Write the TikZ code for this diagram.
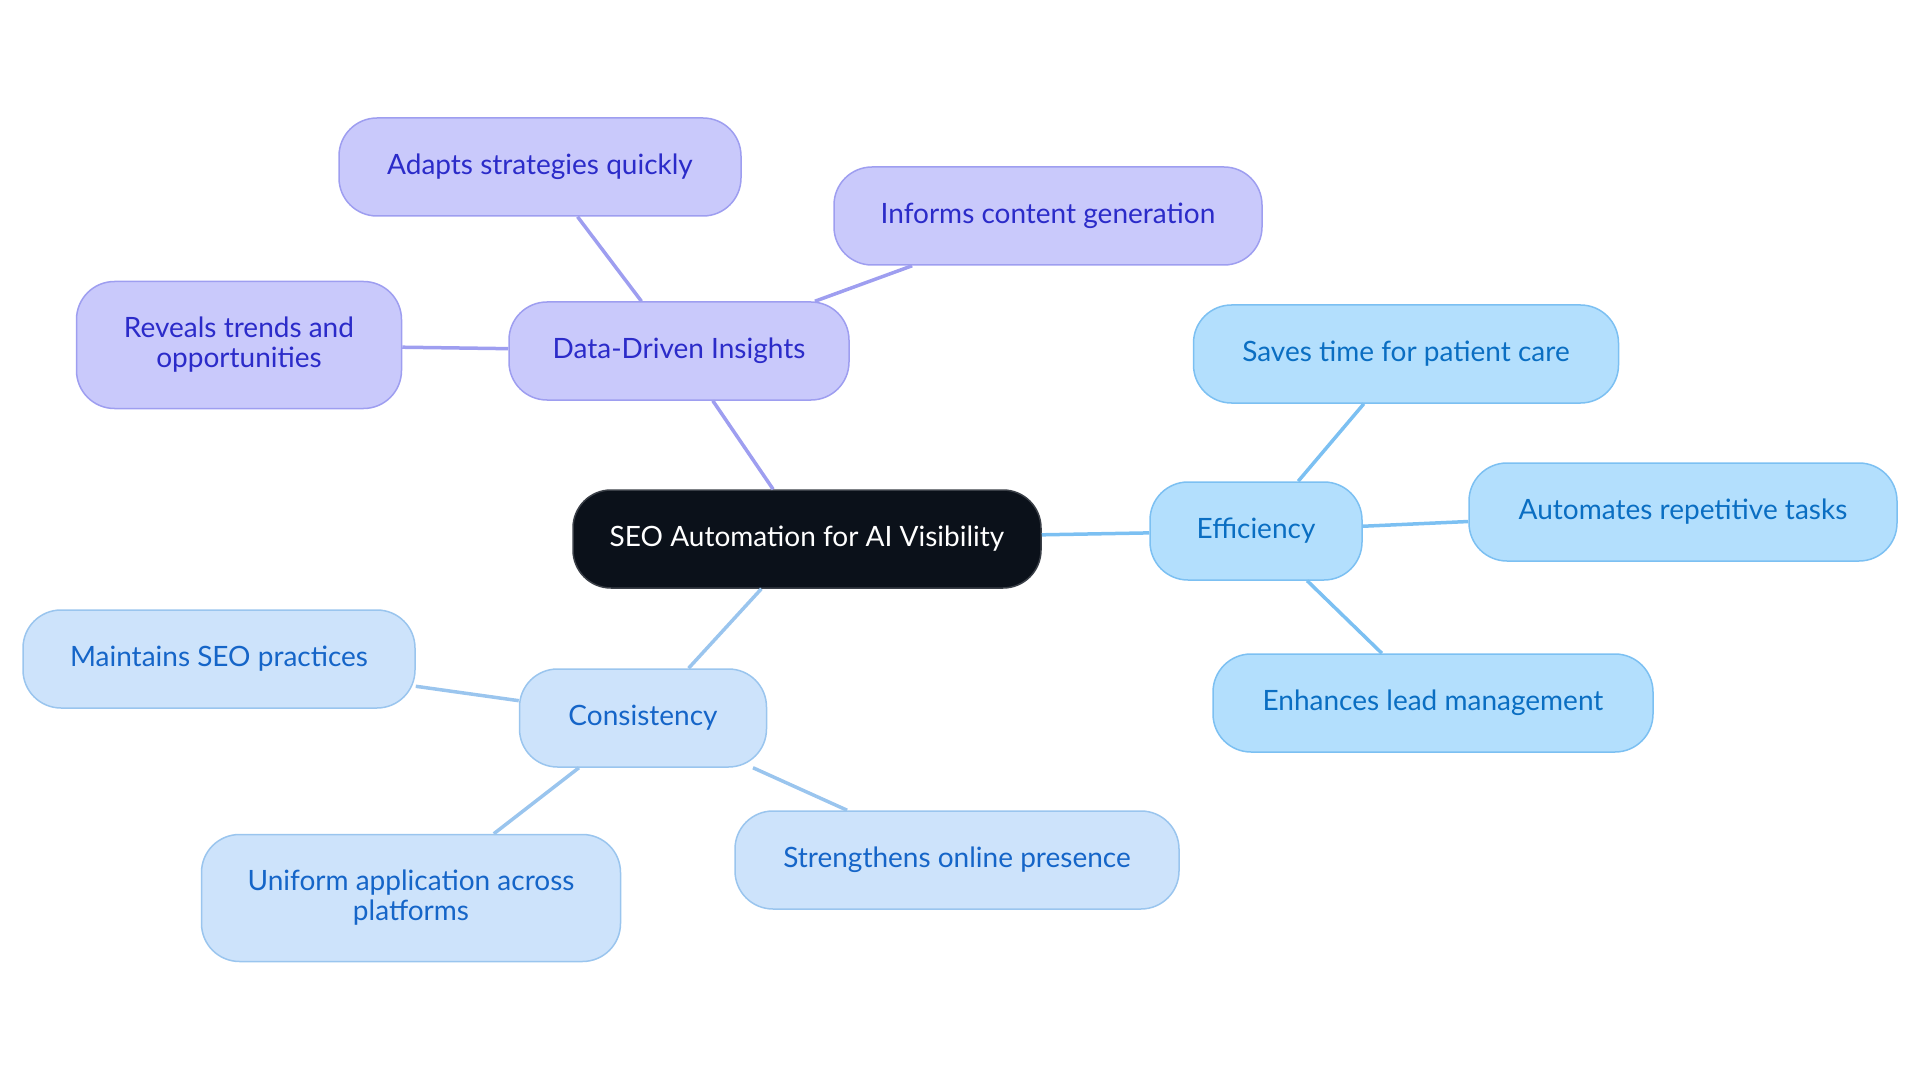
\documentclass[tikz,border=0pt]{standalone}
\usepackage{fontspec}
\setmainfont{Lato}
\usetikzlibrary{positioning}
\definecolor{rootfill}{HTML}{0B111A}
\definecolor{rootline}{HTML}{3A3F47}
\definecolor{purfill}{HTML}{C9C9FB}
\definecolor{purline}{HTML}{9E9EF0}
\definecolor{purtext}{HTML}{2B2BC9}
\definecolor{skyfill}{HTML}{B3DFFD}
\definecolor{skyline}{HTML}{7CC0F2}
\definecolor{skytext}{HTML}{0A6EC2}
\definecolor{palefill}{HTML}{CDE3FB}
\definecolor{paleline}{HTML}{9AC5EE}
\definecolor{paletext}{HTML}{1565C8}

\begin{document}
\begin{tikzpicture}[x=1pt,y=-1pt,
  box/.style={draw,line width=1.5pt,rounded corners=38pt,minimum height=98pt,
    align=center,inner sep=0pt,font=\fontsize{28}{30}\selectfont},
  rootbox/.style={box,fill=rootfill,draw=rootline,text=white},
  purbox/.style={box,fill=purfill,draw=purline,text=purtext},
  skybox/.style={box,fill=skyfill,draw=skyline,text=skytext},
  palebox/.style={box,fill=palefill,draw=paleline,text=paletext},
  link/.style={line width=3.5pt}]
  \useasboundingbox (0,0) rectangle (1920,1083);
  % Root
  \node[rootbox,minimum width=468pt] (root) at (807,539) {SEO Automation for AI Visibility};
  % Data-driven branch
  \node[purbox,minimum width=340pt] (insight) at (679,351) {Data-Driven Insights};
  \node[purbox,minimum width=402pt] (adapt) at (540,167) {Adapts strategies quickly};
  \node[purbox,minimum width=428pt] (inform) at (1048,216) {Informs content generation};
  \node[purbox,minimum width=325pt,minimum height=127pt] (reveal) at (239,345) {Reveals trends and\\opportunities};
  % Efficiency branch
  \node[skybox,minimum width=212pt] (effic) at (1256,531) {Efficiency};
  \node[skybox,minimum width=425pt] (saves) at (1406,354) {Saves time for patient care};
  \node[skybox,minimum width=428pt] (autom) at (1683,512) {Automates repetitive tasks};
  \node[skybox,minimum width=440pt] (leads) at (1433,703) {Enhances lead management};
  % Consistency branch
  \node[palebox,minimum width=247pt] (consist) at (643,718) {Consistency};
  \node[palebox,minimum width=392pt] (maint) at (219,659) {Maintains SEO practices};
  \node[palebox,minimum width=419pt,minimum height=127pt] (uniform) at (411,898) {Uniform application across\\platforms};
  \node[palebox,minimum width=444pt] (online) at (957,860) {Strengthens online presence};
  % Links
  \draw[link,purline] (root) -- (insight);
  \draw[link,purline] (insight) -- (adapt);
  \draw[link,purline] (insight) -- (inform);
  \draw[link,purline] (insight) -- (reveal);
  \draw[link,skyline] (root) -- (effic);
  \draw[link,skyline] (effic) -- (saves);
  \draw[link,skyline] (effic) -- (autom);
  \draw[link,skyline] (effic) -- (leads);
  \draw[link,paleline] (root) -- (consist);
  \draw[link,paleline] (consist) -- (maint);
  \draw[link,paleline] (consist) -- (uniform);
  \draw[link,paleline] (consist) -- (online);
\end{tikzpicture}
\end{document}
